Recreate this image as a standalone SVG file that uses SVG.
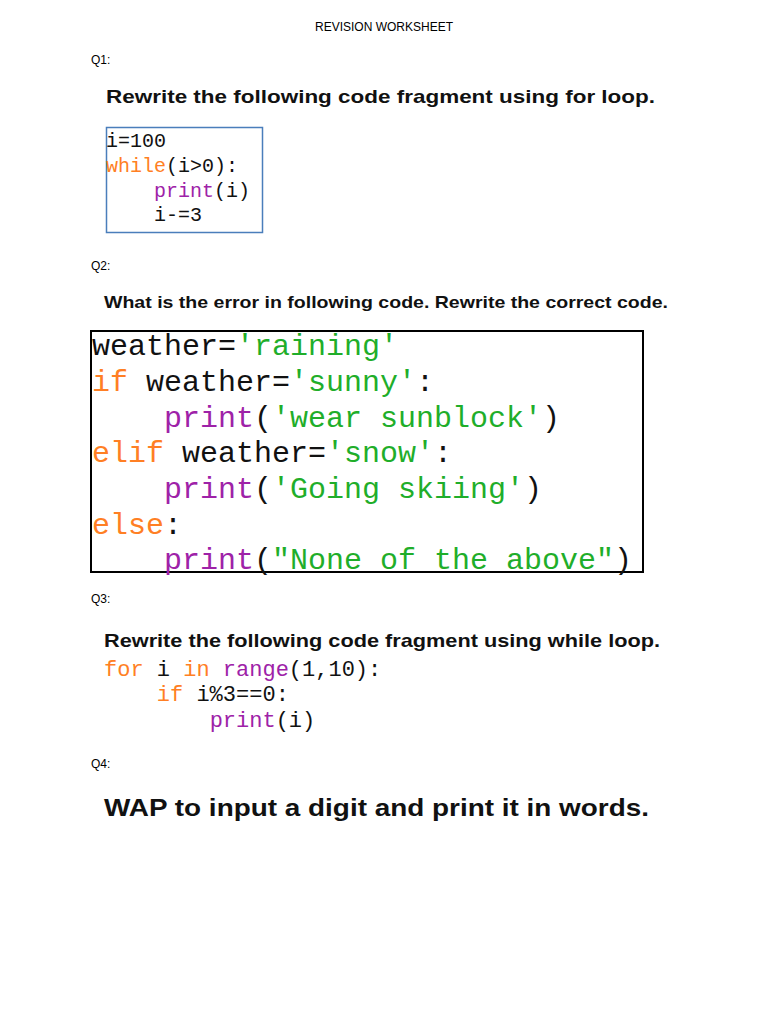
<svg xmlns="http://www.w3.org/2000/svg" width="768" height="1024" viewBox="0 0 768 1024">
<style>
.s{font-family:"Liberation Sans",Arial,sans-serif;font-size:12px;fill:#000}
.h{font-family:"Liberation Sans",Arial,sans-serif;font-weight:bold;fill:#111}
.m{font-family:"Liberation Mono","Courier New",monospace;fill:#111}
.k{fill:#ff7f24}.p{fill:#9e22a8}.g{fill:#1fae2a}
</style>
<rect width="768" height="1024" fill="#fff"/>
<text class="s" x="384" y="31" text-anchor="middle">REVISION WORKSHEET</text>
<text class="s" x="91" y="64">Q1:</text>
<text class="h" x="106" y="103" font-size="19" textLength="549" lengthAdjust="spacingAndGlyphs">Rewrite the following code fragment using for loop.</text>
<rect x="106.5" y="127.5" width="156" height="105" fill="none" stroke="#4a7ebb" stroke-width="1.5"/>
<g class="m" font-size="20">
<text x="106" y="147">i=100</text>
<text x="106" y="172"><tspan class="k">while</tspan>(i&gt;0):</text>
<text x="106" y="197" xml:space="preserve">    <tspan class="p">print</tspan>(i)</text>
<text x="106" y="221" xml:space="preserve">    i-=3</text>
</g>
<text class="s" x="91" y="270">Q2:</text>
<text class="h" x="104" y="308" font-size="17" textLength="564" lengthAdjust="spacingAndGlyphs">What is the error in following code. Rewrite the correct code.</text>
<rect x="91" y="331" width="552" height="241" fill="none" stroke="#000" stroke-width="2"/>
<g class="m" font-size="30">
<text x="92" y="355">weather=<tspan class="g">'raining'</tspan></text>
<text x="92" y="391"><tspan class="k">if</tspan> weather=<tspan class="g">'sunny'</tspan>:</text>
<text x="92" y="427" xml:space="preserve">    <tspan class="p">print</tspan>(<tspan class="g">'wear sunblock'</tspan>)</text>
<text x="92" y="462"><tspan class="k">elif</tspan> weather=<tspan class="g">'snow'</tspan>:</text>
<text x="92" y="498" xml:space="preserve">    <tspan class="p">print</tspan>(<tspan class="g">'Going skiing'</tspan>)</text>
<text x="92" y="534"><tspan class="k">else</tspan>:</text>
<text x="92" y="569" xml:space="preserve">    <tspan class="p">print</tspan>(<tspan class="g">"None of the above"</tspan>)</text>
</g>
<text class="s" x="91" y="603">Q3:</text>
<text class="h" x="104" y="647" font-size="19" textLength="556" lengthAdjust="spacingAndGlyphs">Rewrite the following code fragment using while loop.</text>
<g class="m" font-size="22">
<text x="104" y="676"><tspan class="k">for</tspan> i <tspan class="k">in</tspan> <tspan class="p">range</tspan>(1,10):</text>
<text x="104" y="701" xml:space="preserve">    <tspan class="k">if</tspan> i%3==0:</text>
<text x="104" y="727" xml:space="preserve">        <tspan class="p">print</tspan>(i)</text>
</g>
<text class="s" x="91" y="768">Q4:</text>
<text class="h" x="104" y="816" font-size="24" textLength="545" lengthAdjust="spacingAndGlyphs">WAP to input a digit and print it in words.</text>
</svg>
